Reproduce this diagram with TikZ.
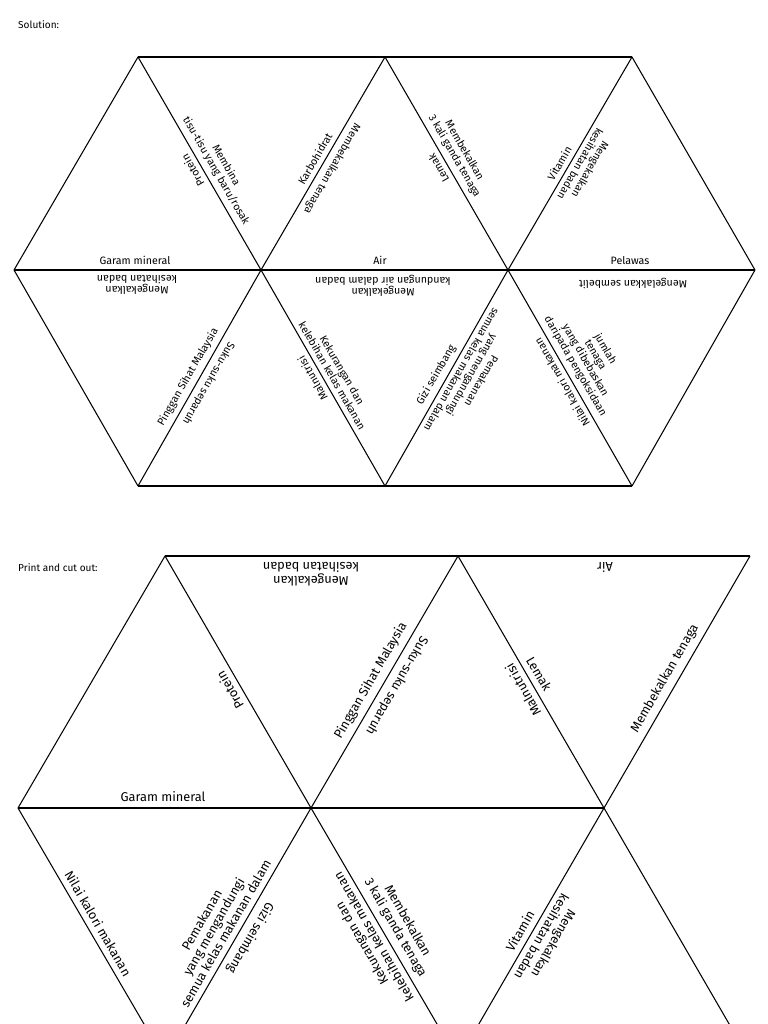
\documentclass[tikz,border=0pt]{standalone}
\usepackage{fontspec}
\setmainfont{Fira Sans}
\usetikzlibrary{positioning,calc}

\begin{document}
\begin{tikzpicture}[
  x = 0.03cm,
  y = -0.03cm,
  grid/.style = {
    draw,
    line width = 0.9pt,
    line join = round,
  },
  tiny/.style = {
    font = \fontsize{9.1}{9.8}\selectfont,
    align = center,
    anchor = south,
    inner sep = 4.2pt,
  },
  big/.style = {
    font = \fontsize{10.9}{11.8}\selectfont,
    align = center,
    anchor = south,
    inner sep = 5pt,
  },
  head/.style = {
    font = \fontsize{8.6}{10}\selectfont,
    anchor = west,
    inner sep = 0pt,
  },
]

  \useasboundingbox (0,0) rectangle (768,1024);
  \clip (0,0) rectangle (768,1024);

  % solution hexagon
  \coordinate (a1) at (138,57);
  \coordinate (a2) at (385,57);
  \coordinate (a3) at (632,57);
  \coordinate (b0) at (14,270);
  \coordinate (b1) at (261,270);
  \coordinate (b2) at (508,270);
  \coordinate (b3) at (755,270);
  \coordinate (c1) at (138,486);
  \coordinate (c2) at (385,486);
  \coordinate (c3) at (632,486);

  \draw[grid] (a1) -- (a3);
  \draw[grid] (b0) -- (b3);
  \draw[grid] (c1) -- (c3);
  \draw[grid] (b0) -- (a1) -- (b1) -- (c2);
  \draw[grid] (c1) -- (b1) -- (a2) -- (b2) -- (c3);
  \draw[grid] (c2) -- (b2) -- (a3) -- (b3) -- (c3);
  \draw[grid] (b0) -- (c1);

  \node[head] (hsol) at (18,25) {Solution:};

  \node[tiny,rotate=120] (s1) at ($(a1)!0.51!(b1)$) {Protein};
  \node[tiny,rotate=-60] (s2) at ($(a1)!0.56!(b1)$) {Membina\\tisu-tisu yang baru/rosak};
  \node[tiny,rotate=60] (s3) at ($(a2)!0.50!(b1)$) {Karbohidrat};
  \node[tiny,rotate=-120] (s4) at ($(a2)!0.50!(b1)$) {Membekalkan tenaga};
  \node[tiny,rotate=120] (s5) at ($(a2)!0.50!(b2)$) {Lemak};
  \node[tiny,rotate=-60] (s6) at ($(a2)!0.49!(b2)$) {Membekalkan\\3 kali ganda tenaga};
  \node[tiny,rotate=60] (s7) at ($(a3)!0.52!(b2)$) {Vitamin};
  \node[tiny,rotate=-120] (s8) at ($(a3)!0.48!(b2)$) {Mengekalkan\\kesihatan badan};

  \node[tiny] (s9) at (135,270) {Garam mineral};
  \node[tiny] (s10) at (380,270) {Air};
  \node[tiny] (s11) at (630,270) {Pelawas};
  \node[tiny,rotate=180] (s12) at (137,270) {Mengekalkan\\kesihatan badan};
  \node[tiny,rotate=180] (s13) at (383,270) {Mengekalkan\\kandungan air dalam badan};
  \node[tiny,rotate=180] (s14) at (633,273) {Mengelakkan sembelit};

  \node[tiny,rotate=60] (s15) at ($(b1)!0.52!(c1)$) {Pinggan Sihat Malaysia};
  \node[tiny,rotate=-120] (s16) at ($(b1)!0.50!(c1)$) {Suku-suku separuh};
  \node[tiny,rotate=120] (s17) at ($(b1)!0.48!(c2)$) {Malnutrisi};
  \node[tiny,rotate=-60] (s18) at ($(b1)!0.51!(c2)$) {Kekurangan dan\\kelebihan kelas makanan};
  \node[tiny,rotate=60] (s19) at ($(b2)!0.51!(c2)$) {Gizi seimbang};
  \node[tiny,rotate=-120] (s20) at ($(b2)!0.44!(c2)$) {Pemakanan\\yang mengandungi\\semua kelas makanan dalam};
  \node[tiny,rotate=120] (s21) at ($(b2)!0.50!(c3)$) {Nilai kalori makanan};
  \node[tiny,rotate=-60] (s22) at ($(b2)!0.47!(c3)$) {jumlah\\tenaga\\yang dibebaskan\\daripada pengoksidaan};

  % print and cut out
  \coordinate (p1) at (165,556);
  \coordinate (p2) at (458,556);
  \coordinate (p3) at (750,556);
  \coordinate (q0) at (18,808);
  \coordinate (q1) at (311,808);
  \coordinate (q2) at (604,808);
  \coordinate (r1) at (165,1060);
  \coordinate (r2) at (458,1060);
  \coordinate (r3) at (750,1060);

  \draw[grid] (p1) -- (p3);
  \draw[grid] (q0) -- (q2);
  \draw[grid] (q0) -- (p1) -- (q1) -- (r2);
  \draw[grid] (r1) -- (q1) -- (p2) -- (q2) -- (r3);
  \draw[grid] (r2) -- (q2) -- (p3);
  \draw[grid] (q0) -- (r1);

  \node[head] (hcut) at (18,568) {Print and cut out:};

  \node[big] (c1) at (163,808) {Garam mineral};
  \node[big,rotate=120] (c2) at ($(p1)!0.51!(q1)$) {Protein};
  \node[big,rotate=180] (c3) at (311,556) {Mengekalkan\\kesihatan badan};
  \node[big,rotate=60] (c4) at ($(p2)!0.52!(q1)$) {Pinggan Sihat Malaysia};
  \node[big,rotate=-120] (c5) at ($(p2)!0.49!(q1)$) {Suku-suku separuh};
  \node[big,rotate=120] (c6) at ($(p2)!0.51!(q2)$) {Malnutrisi};
  \node[big,rotate=-60] (c7) at ($(p2)!0.49!(q2)$) {Lemak};
  \node[big,rotate=180] (c8) at (605,556) {Air};
  \node[big,rotate=60] (c9) at ($(p3)!0.51!(q2)$) {Membekalkan tenaga};

  \node[big,rotate=-60] (c10) at ($(q0)!0.48!(r1)$) {Nilai kalori makanan};
  \node[big,rotate=60] (c11) at ($(q1)!0.52!(r1)$) {Pemakanan\\yang mengandungi\\semua kelas makanan dalam};
  \node[big,rotate=-120] (c12) at ($(q1)!0.49!(r1)$) {Gizi seimbang};
  \node[big,rotate=120] (c13) at ($(q1)!0.49!(r2)$) {Kekurangan dan\\kelebihan kelas makanan};
  \node[big,rotate=-60] (c14) at ($(q1)!0.50!(r2)$) {Membekalkan\\3 kali ganda tenaga};
  \node[big,rotate=60] (c15) at ($(q2)!0.51!(r2)$) {Vitamin};
  \node[big,rotate=-120] (c16) at ($(q2)!0.49!(r2)$) {Mengekalkan\\kesihatan badan};

\end{tikzpicture}
\end{document}
